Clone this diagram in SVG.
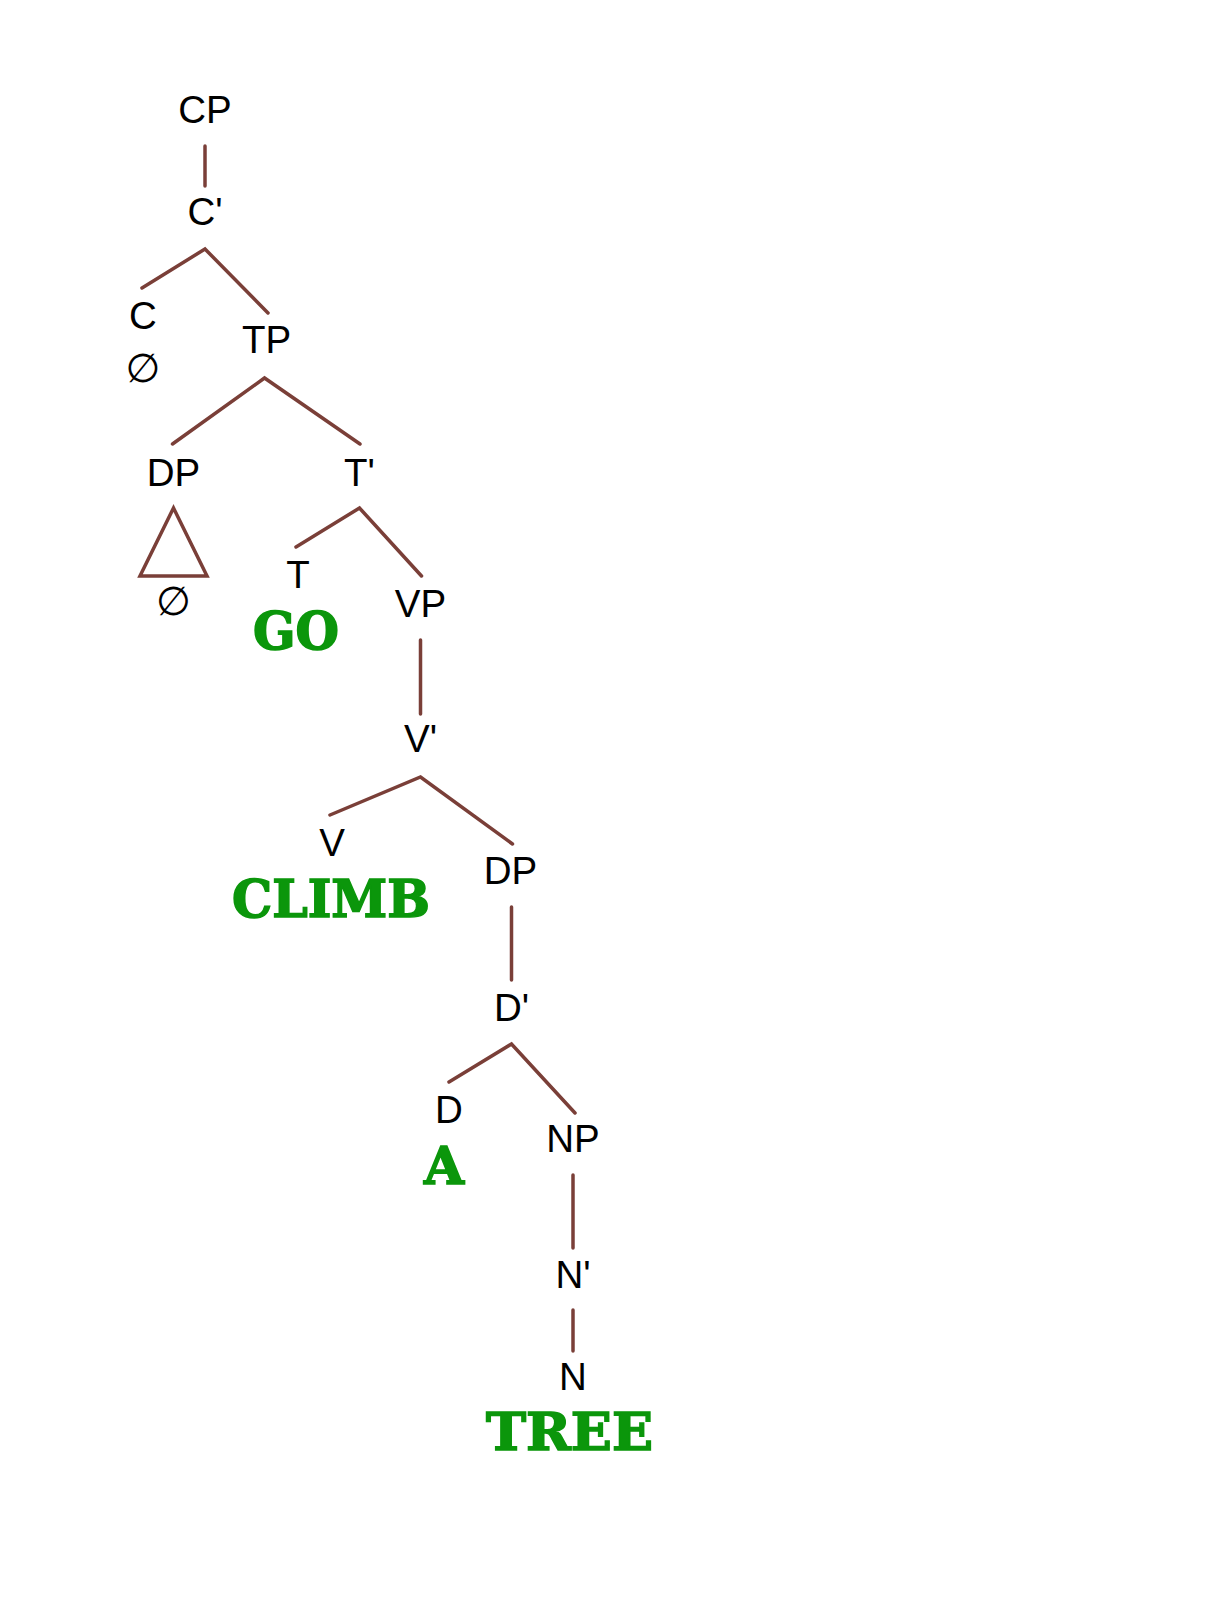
<svg xmlns="http://www.w3.org/2000/svg" width="1232" height="1600" viewBox="0 0 1232 1600">
<style>
.lb{font-family:"Liberation Sans",Arial,sans-serif;font-size:38.5px;fill:#000;text-anchor:middle}
.nul{font-family:"DejaVu Sans","Liberation Sans",sans-serif;font-size:40px;fill:#000;text-anchor:middle}
.w{font-family:"DejaVu Serif","Liberation Serif",serif;font-weight:bold;font-size:52px;fill:#0b960b;stroke:#0b960b;stroke-width:1.6;text-anchor:middle}
.e{stroke:#7a3f38;stroke-width:3.5;fill:none;stroke-linecap:round;stroke-linejoin:miter}
</style>
<rect width="1232" height="1600" fill="#fff"/>
<g id="connectors">
<path class="e" d="M205,146V186"/>
<path class="e" d="M142,288L205,249L268,313"/>
<path class="e" d="M172.5,444L264.5,378L360,444"/>
<path class="e" d="M296,547L359.5,508L421.5,576"/>
<path class="e" d="M420.5,640V714"/>
<path class="e" d="M330,815L420.5,777L512.5,844"/>
<path class="e" d="M511.5,907V980"/>
<path class="e" d="M449,1082L511.5,1044L575,1113"/>
<path class="e" d="M573,1175V1248"/>
<path class="e" d="M573,1310V1351"/>
</g>
<g id="CP"><text class="lb" x="205" y="123">CP</text></g>
<g id="Cbar"><text class="lb" x="205" y="225">C'</text></g>
<g id="C"><text class="lb" x="143" y="329">C</text><text class="nul" x="143" y="382">∅</text></g>
<g id="TP"><text class="lb" x="266.5" y="353">TP</text></g>
<g id="DP1"><text class="lb" x="173.5" y="486">DP</text>
<path class="e" d="M173.5,508L140,576H207Z"/><text class="nul" x="173.5" y="615">∅</text></g>
<g id="Tbar"><text class="lb" x="359.5" y="486">T'</text></g>
<g id="T"><text class="lb" x="298" y="588">T</text><text class="w" x="296" y="649" textLength="86" lengthAdjust="spacingAndGlyphs">GO</text></g>
<g id="VP"><text class="lb" x="420.5" y="617">VP</text></g>
<g id="Vbar"><text class="lb" x="420.5" y="752">V'</text></g>
<g id="V"><text class="lb" x="332" y="856">V</text><text class="w" x="331" y="917" textLength="198" lengthAdjust="spacingAndGlyphs">CLIMB</text></g>
<g id="DP2"><text class="lb" x="510.5" y="884">DP</text></g>
<g id="Dbar"><text class="lb" x="511.5" y="1021">D'</text></g>
<g id="D"><text class="lb" x="449" y="1123">D</text><text class="w" x="444" y="1184" textLength="40" lengthAdjust="spacingAndGlyphs">A</text></g>
<g id="NP"><text class="lb" x="573" y="1152">NP</text></g>
<g id="Nbar"><text class="lb" x="573" y="1288">N'</text></g>
<g id="N"><text class="lb" x="573" y="1390">N</text><text class="w" x="569.5" y="1450" textLength="167" lengthAdjust="spacingAndGlyphs">TREE</text></g>
</svg>
